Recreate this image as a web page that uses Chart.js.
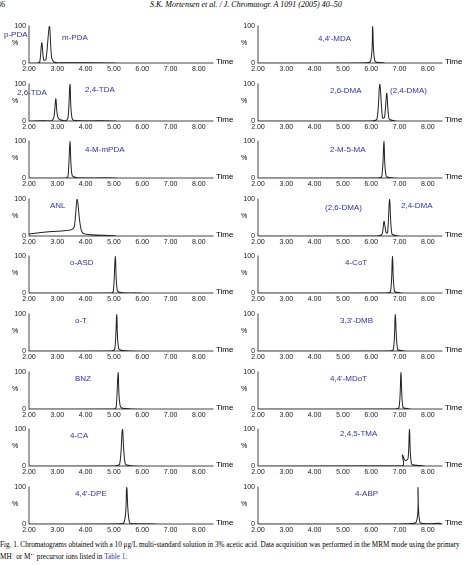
<!DOCTYPE html>
<html><head><meta charset="utf-8">
<script src="https://cdn.jsdelivr.net/npm/chart.js@4.4.0/dist/chart.umd.min.js"></script>
<style>
body{margin:0;background:#fff;width:474px;height:565px;position:relative;overflow:hidden;font-family:"Liberation Sans",Arial,sans-serif}
canvas{position:absolute}
.t{position:absolute;font-size:8px;white-space:nowrap}
.lab{position:absolute;font-size:8px;color:#3333aa;white-space:nowrap}
.hdr{position:absolute;font-family:"Liberation Serif",serif;font-size:8px;font-style:italic}
.cap{position:absolute;font-family:"Liberation Serif",serif;font-size:7.2px;left:0;width:480px;line-height:9px}
</style></head><body>
<div class="hdr" style="left:-3px;top:0;font-style:normal">46</div>
<div class="hdr" style="left:150px;top:0">S.K. Mortensen et al. / J. Chromatogr. A 1091 (2005) 40–50</div>
<div class="cap" style="top:541px">Fig. 1. Chromatograms obtained with a 10 μg/L multi-standard solution in 3% acetic acid. Data acquisition was performed in the MRM mode using the primary<br>MH<sup style="font-size:5px">+</sup> or M<sup style="font-size:5px">•+</sup> precursor ions listed in <span style="color:#3333aa">Table 1</span>.</div>
<script>
const xTicks = [2, 3, 4, 5, 6, 7, 8];
const yTicks = [0, 100];

// [time, %] traces
const pPDA_mPDA = [[2.0,0],[2.3,0.5],[2.38,3],[2.45,55],[2.52,8],[2.6,10],[2.72,100],[2.8,15],[2.9,2],[3.2,1],[4.0,1],[5.0,0.5],[5.1,0]];
const TDA = [[2.0,0],[2.5,1],[2.8,1],[2.88,10],[2.95,60],[3.03,8],[3.3,1],[3.38,10],[3.45,100],[3.53,5],[3.8,1],[4.5,1],[5.0,0.5],[5.1,0]];
const MmPDA = [[2.0,0],[3.3,0.5],[3.38,5],[3.45,100],[3.52,8],[3.7,1],[5.0,0.5],[5.1,0]];
const ANL = [[2.0,5],[2.4,9],[2.8,12],[3.2,14],[3.5,17],[3.6,25],[3.7,100],[3.8,35],[3.9,8],[4.3,3],[5.0,1],[5.1,0]];
const oASD = [[2.0,0],[4.9,0.5],[4.98,5],[5.05,100],[5.12,6],[5.3,1],[5.8,0.5],[6.0,0]];
const oT = [[2.0,0],[4.9,0.5],[5.03,5],[5.1,100],[5.17,6],[5.4,1],[6.0,0]];
const BNZ = [[2.0,0],[5.0,0.5],[5.08,5],[5.15,100],[5.23,6],[5.5,1],[6.0,0]];
const CA = [[2.0,0],[5.0,0.5],[5.2,5],[5.3,100],[5.4,6],[5.6,1],[6.0,0]];
const DPE = [[2.0,0],[4.9,0.5],[5.35,3],[5.45,100],[5.55,4],[5.8,1],[6.4,0.5],[6.5,0]];
const MDA = [[2.0,0],[5.6,0.5],[5.97,4],[6.05,100],[6.13,5],[6.4,1],[6.5,0]];
const DMA1 = [[2.0,0],[6.0,0.5],[6.2,5],[6.3,100],[6.4,8],[6.47,10],[6.55,75],[6.63,6],[6.8,1],[6.9,0]];
const MMA = [[2.0,0],[6.2,0.5],[6.37,4],[6.45,100],[6.53,5],[6.8,0.5],[6.9,0]];
const DMA2 = [[2.0,0],[6.2,0.5],[6.38,5],[6.45,40],[6.53,8],[6.58,10],[6.65,100],[6.73,6],[6.9,1],[7.0,0]];
const CoT = [[2.0,0],[6.5,0.5],[6.68,4],[6.75,100],[6.82,5],[7.0,1],[7.1,0]];
const DMB = [[2.0,0],[6.6,0.5],[6.78,4],[6.85,100],[6.93,5],[7.1,1],[7.2,0]];
const MDoT = [[2.0,0],[6.8,0.5],[6.98,4],[7.05,100],[7.12,5],[7.3,1],[7.4,0]];
const TMA = [[2.0,0],[7.1,1],[7.1,30],[7.2,15],[7.3,20],[7.35,100],[7.42,6],[7.6,2],[7.8,1],[7.9,0]];
const ABP = [[2.0,0],[7.0,0.5],[7.58,4],[7.65,100],[7.72,5],[8.0,1],[8.4,2],[8.5,0]];

const leftTraces = [pPDA_mPDA, TDA, MmPDA, ANL, oASD, oT, BNZ, CA, DPE];
const rightTraces = [MDA, DMA1, MMA, DMA2, CoT, DMB, MDoT, TMA, ABP];

// [text, x, y offset from panel top]
const leftLabels = [[["p-PDA",4,16],["m-PDA",62,19]],[["2,6-TDA",17,16],["2,4-TDA",85,13]],[["4-M-mPDA",85,16]],[["ANL",50,14]],[["o-ASD",70,14]],[["o-T",75,14]],[["BNZ",75,14]],[["4-CA",70,14]],[["4,4'-DPE",75,14]]];
const rightLabels = [[["4,4'-MDA",318,20]],[["2,6-DMA",330,14],["(2,4-DMA)",390,14]],[["2-M-5-MA",330,16]],[["(2,6-DMA)",325,16],["2,4-DMA",401,14]],[["4-CoT",345,14]],[["3,3'-DMB",340,14]],[["4,4'-MDoT",330,14]],[["2,4,5-TMA",340,12]],[["4-ABP",355,14]]];

function panel(left, top, pts) {
  const c = document.createElement('canvas');
  c.style.left = left + 'px'; c.style.top = top + 'px';
  c.style.width = '237px'; c.style.height = '62px';
  document.body.appendChild(c);
  new Chart(c.getContext('2d'), {
    type: 'line',
    data: { datasets: [{ data: pts.map(p => ({x: p[0], y: p[1]})), borderColor: '#222', borderWidth: 1, pointRadius: 0, tension: 0.3 }] },
    options: {
      animation: false, responsive: false, devicePixelRatio: 2,
      layout: { padding: { top: 12, right: 24, left: 0, bottom: 0 } },
      plugins: { legend: { display: false }, tooltip: { enabled: false } },
      scales: {
        x: { type: 'linear', min: 2, max: 8.5,
          afterBuildTicks: a => { a.ticks = xTicks.map(v => ({value: v})); },
          afterFit: a => { a.height = 13; },
          ticks: { callback: v => v.toFixed(2), font: { size: 7 }, color: '#222', padding: 0 },
          grid: { display: false, drawTicks: true, tickLength: 2 },
          border: { dash: [1, 1.5], color: '#444' } },
        y: { min: 0, max: 100,
          afterBuildTicks: a => { a.ticks = yTicks.map(v => ({value: v})); },
          afterFit: a => { a.width = 29; },
          ticks: { font: { size: 7 }, color: '#222', padding: 1 },
          grid: { display: false, tickLength: 2 },
          border: { dash: [1, 1.5], color: '#444' } }
      }
    }
  });
  const t = document.createElement('div');
  t.className = 't'; t.textContent = 'Time';
  t.style.left = (left + 216) + 'px'; t.style.top = (top + 43) + 'px';
  document.body.appendChild(t);
  const p = document.createElement('div');
  p.className = 't'; p.textContent = '%'; p.style.fontSize = '7px';
  p.style.left = (left + 12) + 'px'; p.style.top = (top + 25) + 'px';
  document.body.appendChild(p);
}

function labels(list, top) {
  list.forEach(l => {
    const d = document.createElement('div');
    d.className = 'lab'; d.textContent = l[0];
    d.style.left = l[1] + 'px'; d.style.top = (top + l[2]) + 'px';
    document.body.appendChild(d);
  });
}

for (let i = 0; i < 9; i++) {
  const top = 14 + i * 57.6;
  panel(0, top, leftTraces[i]);
  panel(229, top, rightTraces[i]);
  labels(leftLabels[i], top);
  labels(rightLabels[i], top);
}
</script>
</body></html>
